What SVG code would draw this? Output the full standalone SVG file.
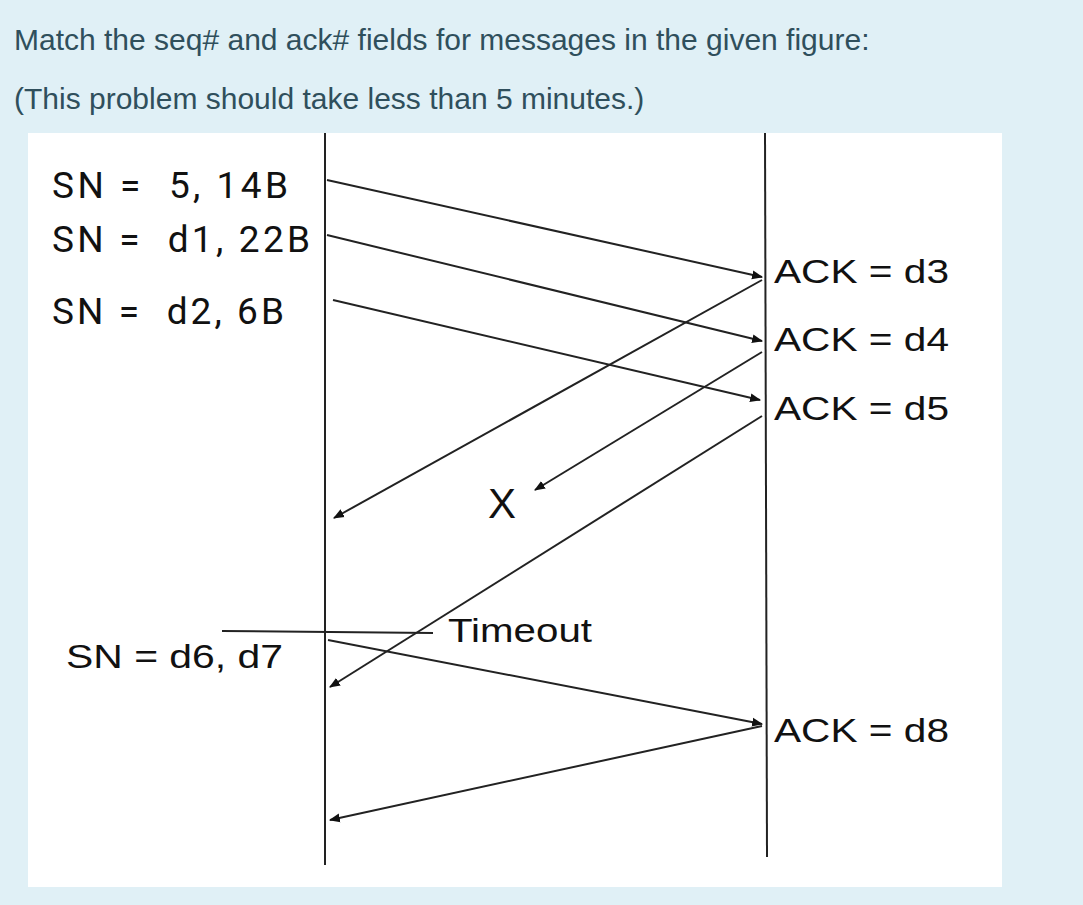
<svg xmlns="http://www.w3.org/2000/svg" width="1083" height="905" viewBox="0 0 1083 905">
<style>
.h{font-family:"Liberation Sans",Arial,sans-serif;font-size:30px;fill:#2f4f5c}
.sn{font-family:Roboto,"Liberation Sans",sans-serif;font-size:37px;fill:#111;white-space:pre}
.t{font-family:"Liberation Sans",Arial,sans-serif;font-size:33px;fill:#111}
.l{stroke:#222;stroke-width:2;fill:none}
.a{stroke:#222;stroke-width:2;fill:none;marker-end:url(#ar)}
</style>
<defs><marker id="ar" viewBox="0 0 10 10" refX="9" refY="5" markerWidth="11" markerHeight="11" markerUnits="userSpaceOnUse" orient="auto"><path d="M0,1 L10,5 L0,9 z" fill="#111"/></marker></defs>
<rect width="1083" height="905" fill="#e0f0f6"/>
<text class="h" x="14" y="50">Match the seq# and ack# fields for messages in the given figure:</text>
<text class="h" x="14" y="109">(This problem should take less than 5 minutes.)</text>
<rect x="28" y="133" width="974" height="754" fill="#fff"/>
<g id="left-line"><line class="l" x1="325" y1="133" x2="325" y2="865"/></g>
<g id="right-line"><line class="l" x1="765" y1="133" x2="767" y2="857"/></g>
<g id="labels">
<text class="sn" x="52" y="198" textLength="236" lengthAdjust="spacing" xml:space="preserve">SN =  5, 14B</text>
<text class="sn" x="52" y="252" textLength="258" lengthAdjust="spacing" xml:space="preserve">SN =  d1, 22B</text>
<text class="sn" x="52" y="324" textLength="232" lengthAdjust="spacing" xml:space="preserve">SN =  d2, 6B</text>
<text class="t" x="66" y="668" textLength="217" lengthAdjust="spacingAndGlyphs">SN = d6, d7</text>
<text class="t" x="774" y="283" textLength="175" lengthAdjust="spacingAndGlyphs">ACK = d3</text>
<text class="t" x="774" y="351" textLength="175" lengthAdjust="spacingAndGlyphs">ACK = d4</text>
<text class="t" x="774" y="420" textLength="175" lengthAdjust="spacingAndGlyphs">ACK = d5</text>
<text class="t" x="774" y="742" textLength="175" lengthAdjust="spacingAndGlyphs">ACK = d8</text>
<text class="t" x="448" y="642" textLength="144" lengthAdjust="spacingAndGlyphs">Timeout</text>
<text class="t" x="488" y="518" style="font-size:42px">X</text>
</g>
<g id="connectors">
<line class="a" x1="327" y1="180" x2="762" y2="277"/>
<line class="a" x1="327" y1="235" x2="762" y2="341"/>
<line class="a" x1="333" y1="300" x2="760" y2="400"/>
<line class="a" x1="762" y1="280" x2="334" y2="518"/>
<line class="a" x1="762" y1="352" x2="535" y2="490"/>
<line class="a" x1="762" y1="416" x2="330" y2="687"/>
<line class="l" x1="222" y1="631" x2="433" y2="633"/>
<line class="a" x1="328" y1="640" x2="762" y2="724"/>
<line class="a" x1="762" y1="726" x2="330" y2="820"/>
</g>
</svg>
